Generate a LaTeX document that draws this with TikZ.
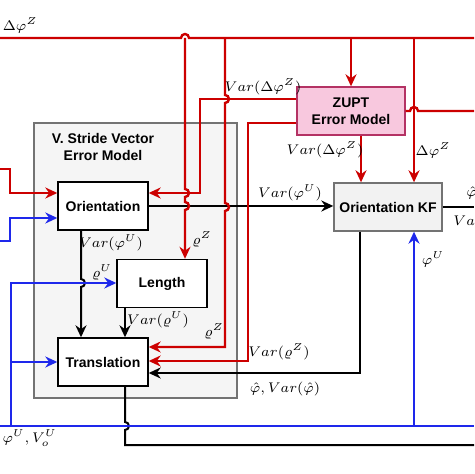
\documentclass[tikz,border=0pt]{standalone}
\usepackage{amsmath}
\usepackage{fontspec}
\setsansfont{Liberation Sans}
\usetikzlibrary{arrows.meta,positioning,calc}
\definecolor{zred}{RGB}{204,0,0}
\definecolor{zblue}{RGB}{30,40,235}
\definecolor{zpink}{RGB}{248,200,222}
\definecolor{zpinkdark}{RGB}{180,50,100}
\definecolor{kfgray}{RGB}{242,242,242}
\definecolor{boxgray}{RGB}{115,115,115}
\definecolor{bggray}{RGB}{245,245,245}

\tikzset{
  blk/.style={draw=black, fill=white, line width=0.7pt, minimum width=45pt, minimum height=24pt,
    inner sep=0pt, align=center, font=\sffamily\bfseries\fontsize{7}{8.5}\selectfont},
  kfbox/.style={blk, draw=boxgray, fill=kfgray, minimum width=54pt},
  zuptbox/.style={blk, draw=zpinkdark, fill=zpink, minimum width=54pt},
  redl/.style={draw=zred, line width=1.2pt},
  bluel/.style={draw=zblue, line width=1pt},
  blackl/.style={draw=black, line width=1pt},
  lbl/.style={inner sep=0pt, font=\scriptsize},
}

\begin{document}
\begin{tikzpicture}[x=0.5pt, y=-0.5pt, >={Stealth[length=6pt,width=5.5pt]}]
  \useasboundingbox (0,0) rectangle (474,474);
  \fill[white] (0,0) rectangle (474,474);

  % stride vector error model frame
  \node[draw=boxgray, fill=bggray, line width=0.6pt, minimum width=101.5pt, minimum height=137.5pt,
    inner sep=0pt] (svbox) at (135.5,260.5) {};
  \node[font=\sffamily\bfseries\fontsize{7}{8.5}\selectfont, align=center] (svtitle) at (103,147)
    {V. Stride Vector\\Error Model};

  % blocks
  \node[blk] (ori) at (103,206) {Orientation};
  \node[blk] (len) at (162,283.5) {Length};
  \node[blk] (tra) at (103,362) {Translation};
  \node[kfbox] (kf) at (388,207) {Orientation KF};
  \node[zuptbox] (zupt) at (351,111) {ZUPT\\Error Model};

  % black signals
  \draw[blackl,->] (ori.east) -- (kf.west |- ori.east);
  \draw[blackl,->] (ori.south -| 81,0) -- (81,279) arc[start angle=-90,end angle=90,radius=4]
    -- (tra.north -| 81,0);
  \draw[blackl,->] (len.south -| 125,0) -- (tra.north -| 125,0);
  \draw[blackl,->] (kf.south -| 360,0) -- (360,373) -- (tra.east |- 0,373);
  \draw[blackl] (tra.south -| 125,0) -- (125,422) arc[start angle=-90,end angle=90,radius=4]
    -- (125,445) -- (474,445);
  \draw[blackl] (kf.east) -- (474,207);

  % blue signals
  \draw[bluel] (0,426) -- (474,426);
  \draw[bluel,->] (11,426) -- (11,283) -- (len.west |- 0,283);
  \draw[bluel,->] (11,362) -- (tra.west);
  \draw[bluel,->] (0,241) -- (10,241) -- (10,218) -- (ori.west |- 0,218);
  \draw[bluel,->] (414,426) -- (kf.south -| 414,0);

  % red signals
  \draw[redl] (0,38) -- (181,38) arc[start angle=180,end angle=360,radius=4] -- (474,38);
  \draw[redl,->] (0,169) -- (10,169) -- (10,193) -- (ori.west |- 0,193);
  \draw[redl,->] (185,38) -- (185,189) arc[start angle=-90,end angle=90,radius=4]
    -- (185,202) arc[start angle=-90,end angle=90,radius=4] -- (len.north -| 185,0);
  \draw[redl,->] (225,38) -- (225,95) arc[start angle=-90,end angle=90,radius=4]
    -- (225,203) arc[start angle=-90,end angle=90,radius=4] -- (225,347) -- (tra.east |- 0,347);
  \draw[redl,->] (zupt.west |- 0,99) -- (200,99) -- (200,193) -- (ori.east |- 0,193);
  \draw[redl,->] (zupt.west |- 0,123) -- (248,123) -- (248,361) -- (tra.east |- 0,361);
  \draw[redl,->] (351,38) -- (zupt.north);
  \draw[redl,->] (zupt.south -| 361,0) -- (kf.north -| 361,0);
  \draw[redl,->] (414,38) -- (kf.north -| 414,0);
  \draw[redl] (zupt.east) -- (410,111) arc[start angle=180,end angle=360,radius=4] -- (474,111);

  % labels
  \node[lbl, anchor=east] (lzin) at (38,25) {$\varrho^Z,\Delta\varphi^Z$};
  \node[lbl, anchor=east] (luin) at (57,438) {$\varrho^U,\varphi^U,V_o^U$};
  \node[lbl] (lvdz) at (263,87) {$Var(\Delta\varphi^Z)$};
  \node[lbl] (lvdzb) at (325,150) {$Var(\Delta\varphi^Z)$};
  \node[lbl] (ldz) at (433,150) {$\Delta\varphi^Z$};
  \node[lbl] (lvpu) at (290,193) {$Var(\varphi^U)$};
  \node[lbl] (lpu) at (433,259) {$\varphi^U$};
  \node[lbl] (lrz) at (202,239) {$\varrho^Z$};
  \node[lbl] (lvpub) at (111,243) {$Var(\varphi^U)$};
  \node[lbl] (lru) at (102,272) {$\varrho^U$};
  \node[lbl] (lvru) at (158,320) {$Var(\varrho^U)$};
  \node[lbl] (lrzb) at (214,331) {$\varrho^Z$};
  \node[lbl] (lvrz) at (279,352) {$Var(\varrho^Z)$};
  \node[lbl] (lphat) at (285,389) {$\hat{\varphi},Var(\hat{\varphi})$};
  \node[lbl, anchor=west] (lkfa) at (466,193) {$\hat{\varphi}$};
  \node[lbl, anchor=west] (lkfb) at (453,222) {$Var(\hat{\varphi})$};
\end{tikzpicture}
\end{document}
